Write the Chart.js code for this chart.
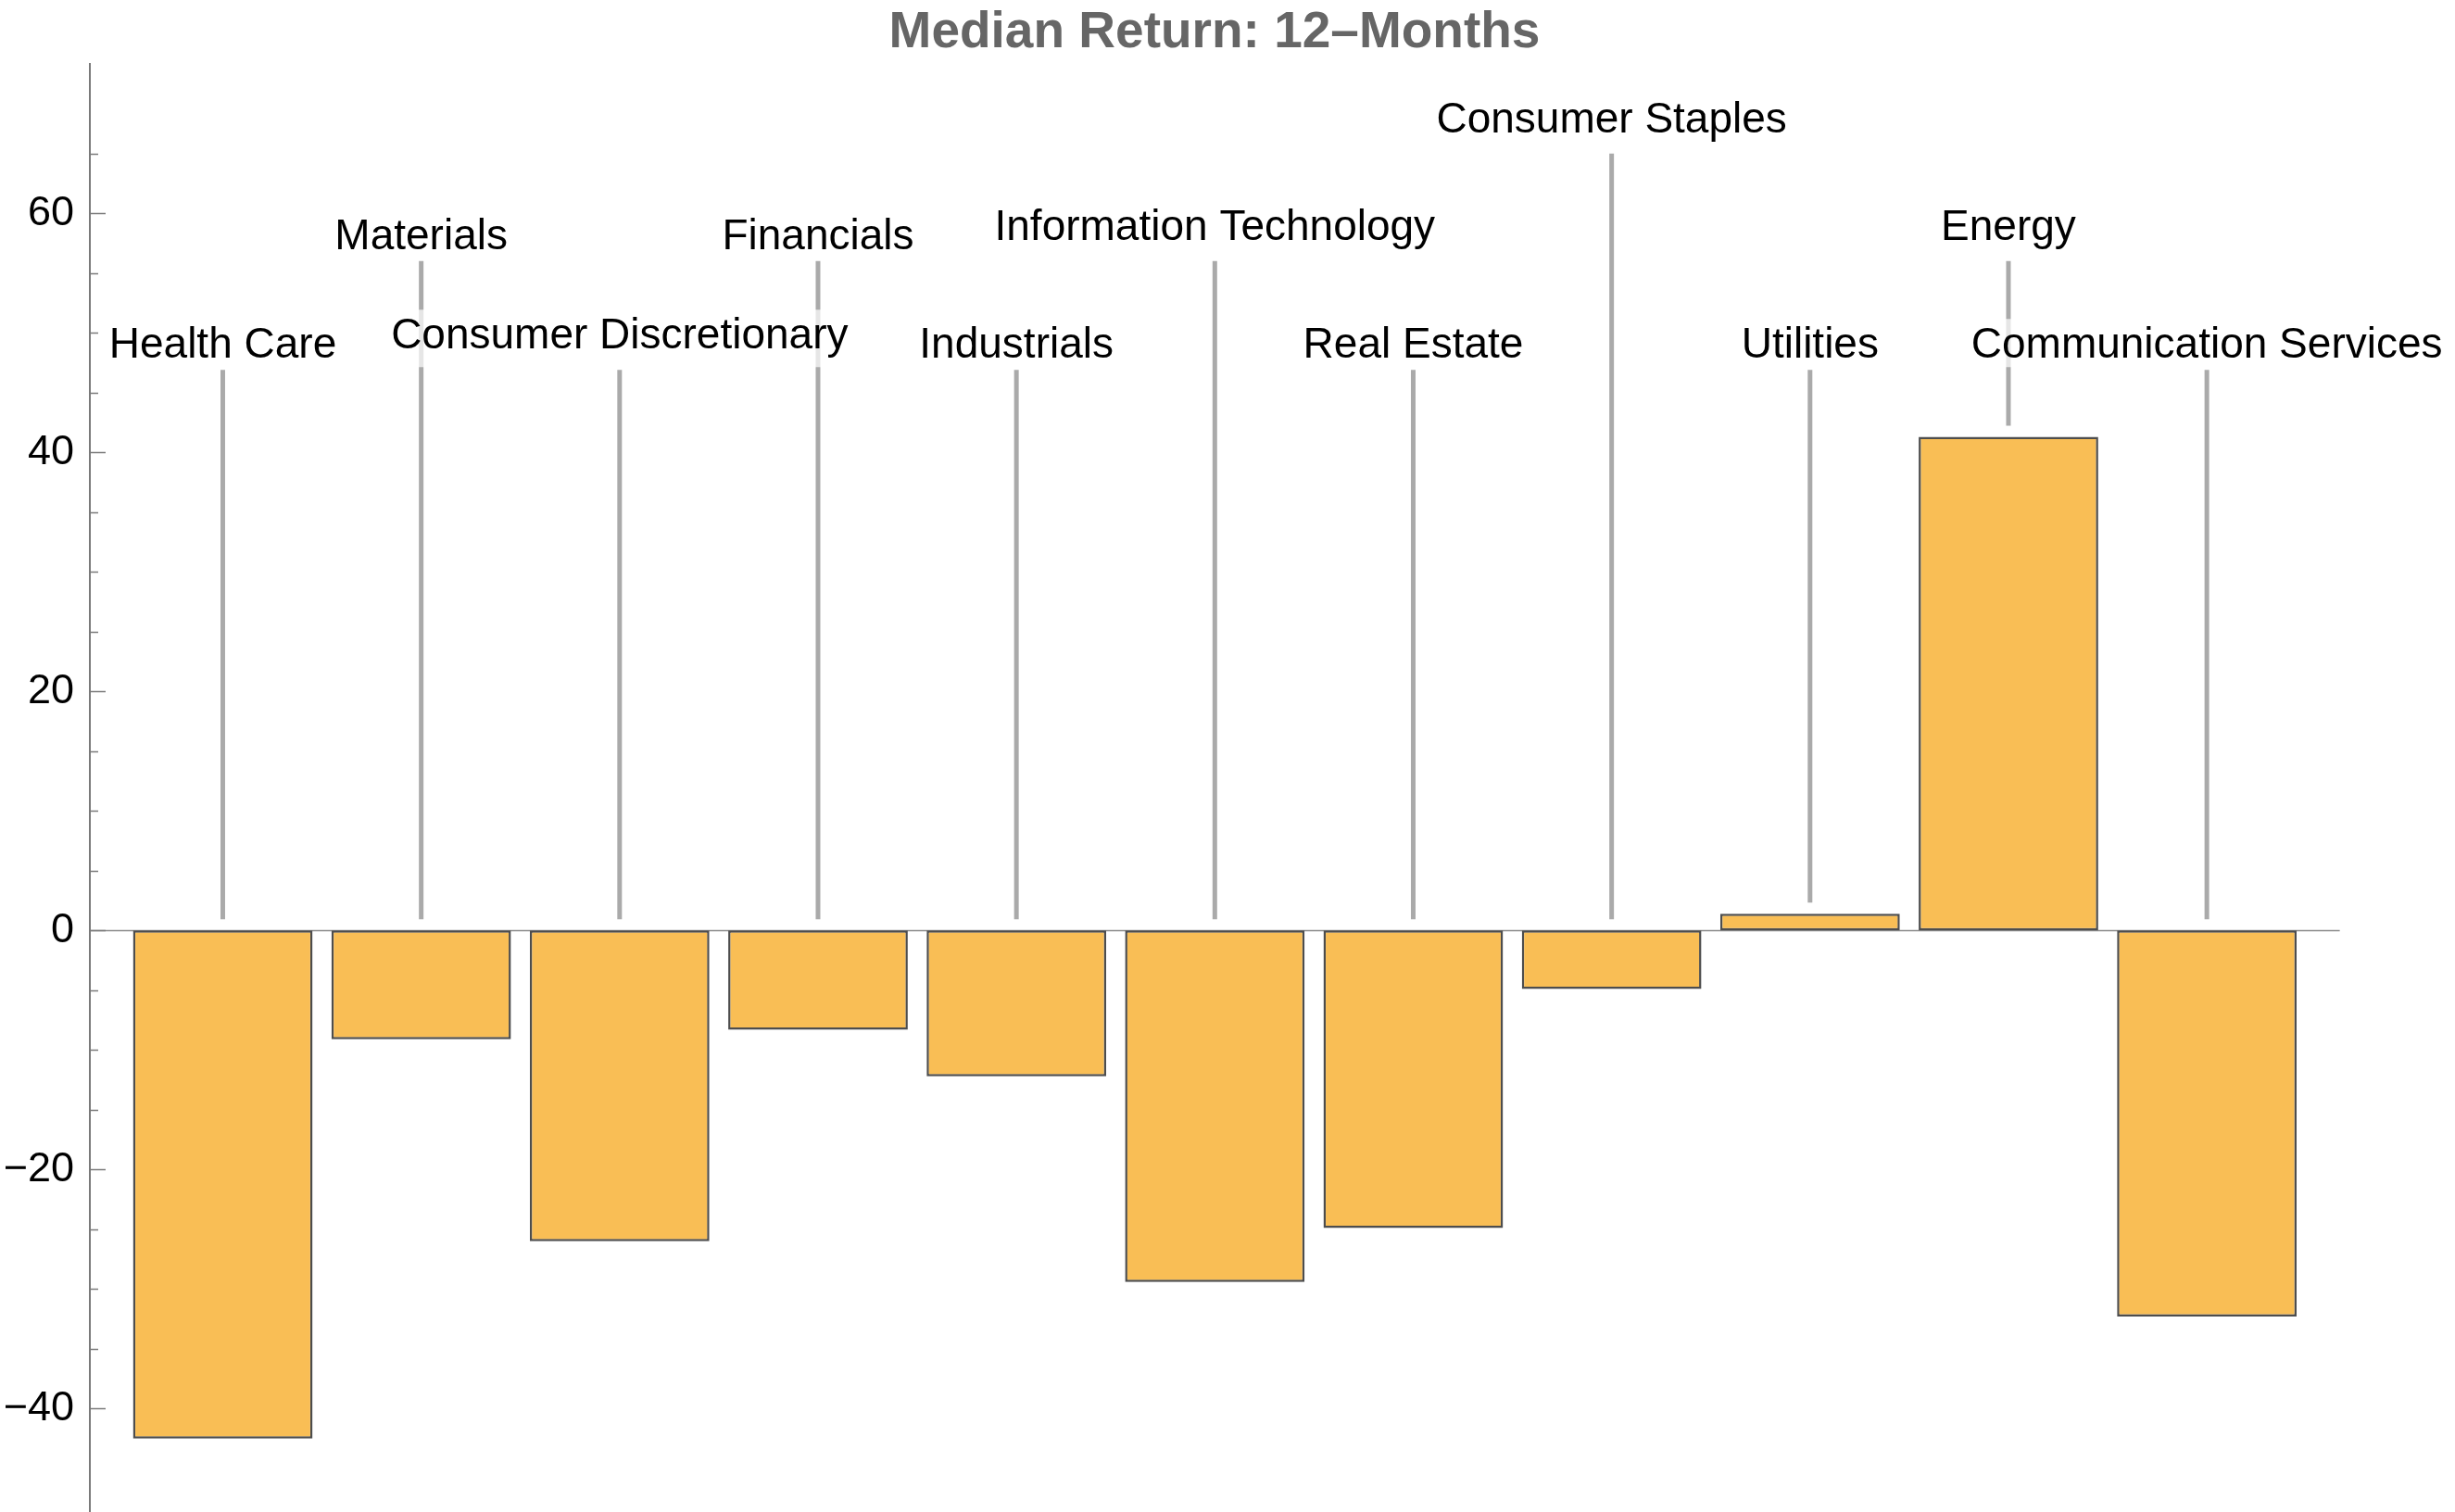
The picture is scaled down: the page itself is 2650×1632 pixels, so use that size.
<!DOCTYPE html>
<html>
<head>
<meta charset="utf-8">
<script src="https://cdn.jsdelivr.net/npm/chart.js@4.4.1/dist/chart.umd.min.js"></script>
<style>
  html, body { margin: 0; padding: 0; background: #fff; }
  #wrap { width: 2650px; height: 1632px; }
</style>
</head>
<body>
<div id="wrap"><canvas id="chart" width="2650" height="1632"></canvas></div>
<script>
const sectors = [
  "Health Care", "Materials", "Consumer Discretionary", "Financials",
  "Industrials", "Information Technology", "Real Estate", "Consumer Staples",
  "Utilities", "Energy", "Communication Services"
];
const medianReturn = [-42.5, -9.1, -26.0, -8.3, -12.2, -29.4, -24.9, -4.9, 1.4, 41.3, -32.3];
const yTickLabels = [-40, -20, 0, 20, 40, 60];

const barFill = "rgb(249,190,85)";
const barEdge = "#4d4d4d";

// gray leader line + text label above each bar, staggered on three rows
const callouts = {
  id: "callouts",
  afterDatasetsDraw(chart, args, opts) {
    const ctx = chart.ctx;
    const xs = chart.scales.x, ys = chart.scales.y;
    const items = sectors.map((name, i) => ({
      name,
      cx: xs.getPixelForValue(i),
      top: ys.getPixelForValue(opts.levels[opts.rows[i]]),
      bottom: ys.getPixelForValue(Math.max(medianReturn[i], 0)) - opts.gap
    }));
    ctx.save();
    ctx.strokeStyle = "rgb(170,170,170)";
    ctx.lineWidth = 5;
    items.forEach(it => {
      ctx.beginPath();
      ctx.moveTo(it.cx, it.bottom);
      ctx.lineTo(it.cx, it.top);
      ctx.stroke();
    });
    ctx.font = "46px 'Liberation Sans', Arial, sans-serif";
    ctx.textAlign = "center";
    ctx.textBaseline = "alphabetic";
    items.forEach(it => {
      const m = ctx.measureText(it.name);
      const base = it.top - 13 - m.actualBoundingBoxDescent;
      ctx.fillStyle = "rgba(255,255,255,0.7)";
      ctx.fillRect(it.cx - m.width / 2 - 4, base - m.actualBoundingBoxAscent - 8,
                   m.width + 8, m.actualBoundingBoxAscent + m.actualBoundingBoxDescent + 18);
      ctx.fillStyle = "#000";
      ctx.fillText(it.name, it.cx, base);
    });
    ctx.restore();
  }
};

// zero line ending at the last category's edge, plus inward y ticks
const axisMarks = {
  id: "axisMarks",
  beforeDatasetsDraw(chart, args, opts) {
    const xs = chart.scales.x, ys = chart.scales.y;
    const ctx = chart.ctx;
    const y0 = Math.round(ys.getPixelForValue(0)) + 0.5;
    ctx.save();
    ctx.strokeStyle = "#8a8a8a";
    ctx.lineWidth = 1.5;
    ctx.beginPath();
    ctx.moveTo(chart.chartArea.left, y0);
    ctx.lineTo(xs.getPixelForValue(opts.zeroLineEnd), y0);
    ctx.stroke();
    ctx.restore();
  },
  afterDraw(chart) {
    const ys = chart.scales.y;
    const ctx = chart.ctx;
    const left = chart.chartArea.left;
    ctx.save();
    ctx.strokeStyle = "#7a7a7a";
    ctx.lineWidth = 1.5;
    ys.ticks.forEach(t => {
      if (Math.abs(t.value % 5) > 1e-6) return;
      const py = Math.round(ys.getPixelForValue(t.value)) + 0.5;
      const len = yTickLabels.includes(t.value) ? 17 : 9;
      ctx.beginPath();
      ctx.moveTo(left, py);
      ctx.lineTo(left + len, py);
      ctx.stroke();
    });
    ctx.restore();
  }
};

new Chart(document.getElementById("chart"), {
  type: "bar",
  data: {
    datasets: [{
      data: medianReturn.map((v, i) => ({ x: i, y: v })),
      backgroundColor: barFill,
      borderColor: barEdge,
      borderWidth: 2.5,
      borderSkipped: false,
      barPercentage: 0.905,
      categoryPercentage: 1
    }]
  },
  options: {
    responsive: false,
    devicePixelRatio: 1,
    animation: false,
    layout: { padding: { left: 0, right: 28, top: 0, bottom: 0 } },
    plugins: {
      legend: { display: false },
      tooltip: { enabled: false },
      title: {
        display: true,
        text: "Median Return: 12\u2013Months",
        color: "#666",
        font: { family: "'Liberation Sans', Arial, sans-serif", size: 55, weight: "bold" },
        padding: { top: 3, bottom: 0 }
      },
      callouts: {
        levels: [46.9, 56, 65],
        rows: [0, 1, 0, 1, 0, 1, 0, 2, 0, 1, 0],
        gap: 12
      },
      axisMarks: { zeroLineEnd: 10.67 }
    },
    scales: {
      x: {
        type: "linear",
        display: false,
        offset: false,
        grid: { offset: false },
        min: -0.67,
        max: 11.12,
        ticks: { stepSize: 1, includeBounds: false }
      },
      y: {
        min: -48.65,
        max: 72.5,
        border: { display: true, color: "#7a7a7a", width: 2 },
        grid: { display: false, drawTicks: false },
        ticks: {
          stepSize: 5,
          padding: 17,
          color: "#000",
          font: { family: "'Liberation Sans', Arial, sans-serif", size: 45 },
          callback: v => (yTickLabels.includes(v) ? (v < 0 ? "\u2212" + Math.abs(v) : String(v)) : "")
        },
        afterFit: s => {
          s.width = 97;
          s.paddingTop = 0;
          s.paddingBottom = 0;
        }
      }
    }
  },
  plugins: [callouts, axisMarks]
});
</script>
</body>
</html>
